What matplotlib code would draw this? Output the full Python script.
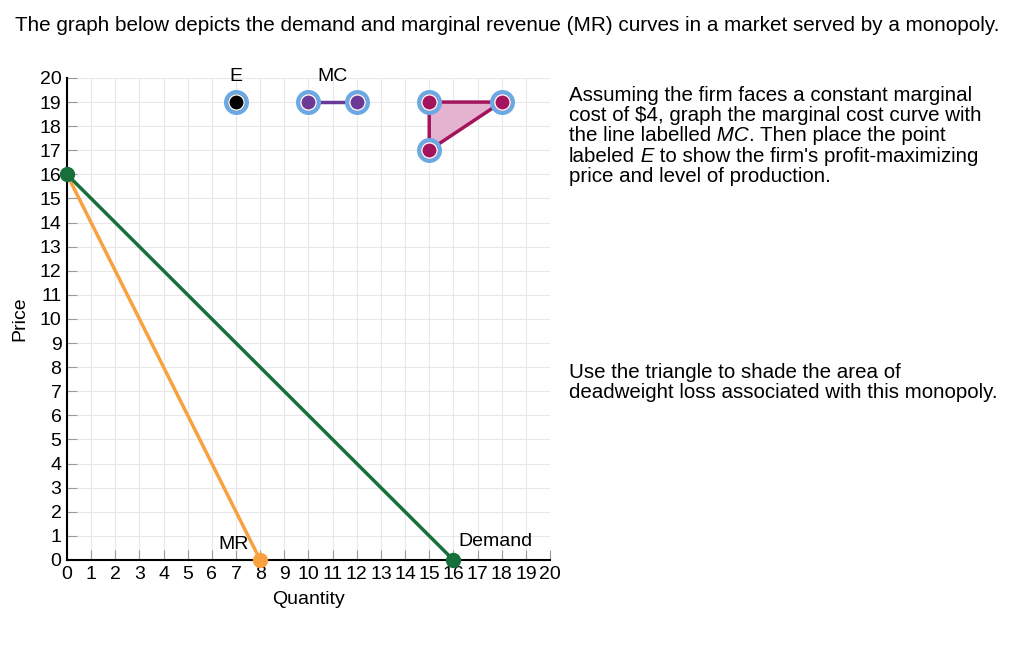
import matplotlib.pyplot as plt

plt.rcParams['font.family'] = ['Liberation Sans', 'DejaVu Sans']

# data
demand_q = [0, 16]
demand_p = [16, 0]
mr_q = [0, 8]
mr_p = [16, 0]
e_q, e_p = [7], [19]
mc_q = [10, 12]
mc_p = [19, 19]
tri_q = [15, 18, 15]
tri_p = [19, 19, 17]
ticks = list(range(0, 21))

green = '#17703c'
orange = '#f9a03f'
purple = '#6b3a96'
magenta = '#a3145c'
ring = '#6aa9e4'

fig = plt.figure(figsize=(10.24, 6.63), dpi=100)
ax = fig.add_axes([0.0654, 0.1554, 0.4717, 0.727])

ax.set_xlim(0, 20)
ax.set_ylim(0, 20)
ax.set_xticks(ticks)
ax.set_yticks(ticks)
ax.grid(True, color='#e8e8e8', linewidth=0.8)
ax.set_axisbelow(True)
for s in ['top', 'right']:
    ax.spines[s].set_visible(False)
ax.spines['left'].set_linewidth(1.5)
ax.spines['bottom'].set_linewidth(1.5)
ax.tick_params(direction='in', length=7, color='#999999', labelsize=14, pad=4)

ax.plot(mr_q, mr_p, color=orange, lw=2.5, clip_on=False)
ax.plot(demand_q, demand_p, color=green, lw=2.5, clip_on=False)
ax.plot(mr_q[1:], mr_p[1:], 'o', color=orange, ms=10, clip_on=False, zorder=5)
ax.plot(demand_q, demand_p, 'o', color=green, ms=10, clip_on=False, zorder=5)

# draggable items
ax.plot(e_q, e_p, 'o', ms=15, mfc='black', mec=ring, mew=3, clip_on=False, zorder=6)
ax.plot(e_q, e_p, 'o', ms=11, mfc='black', mec='white', mew=1, clip_on=False, zorder=6)
ax.plot(mc_q, mc_p, color=purple, lw=2.5, zorder=4)
ax.plot(mc_q, mc_p, 'o', ms=15, mfc=purple, mec=ring, mew=3, clip_on=False, zorder=6)
ax.plot(mc_q, mc_p, 'o', ms=11, mfc=purple, mec='white', mew=1, clip_on=False, zorder=6)
ax.fill(tri_q, tri_p, color='#e4b3d0', zorder=3)
ax.plot(tri_q + tri_q[:1], tri_p + tri_p[:1], color=magenta, lw=2.5, zorder=4)
ax.plot(tri_q, tri_p, 'o', ms=15, mfc=magenta, mec=ring, mew=3, clip_on=False, zorder=6)
ax.plot(tri_q, tri_p, 'o', ms=11, mfc=magenta, mec='white', mew=1, clip_on=False, zorder=6)

ax.text(7, 19.7, 'E', ha='center', va='bottom', fontsize=14)
ax.text(11, 19.7, 'MC', ha='center', va='bottom', fontsize=14)
ax.text(6.9, 0.3, 'MR', ha='center', va='bottom', fontsize=14)
ax.text(16.2, 0.4, 'Demand', ha='left', va='bottom', fontsize=14)

ax.set_xlabel('Quantity', fontsize=14, labelpad=6)
ax.set_ylabel('Price', fontsize=14, labelpad=8)

fig.text(0.0146, 0.962, 'The graph below depicts the demand and marginal revenue (MR) curves in a market served by a monopoly.',
         ha='left', va='center', fontsize=14.9)

# instruction text, (segment, italic) per line
lines1 = [[("Assuming the firm faces a constant marginal", False)],
          [("cost of $4, graph the marginal cost curve with", False)],
          [("the line labelled", False), (" MC", True), (". Then place the point", False)],
          [("labeled", False), (" E", True), (" to show the firm's profit-maximizing", False)],
          [("price and level of production.", False)]]
lines2 = [[("Use the triangle to shade the area of", False)],
          [("deadweight loss associated with this monopoly.", False)]]

renderer = fig.canvas.get_renderer()


def place(lines, y0):
    # put segments one after another so italics stay on the baseline
    for i, segs in enumerate(lines):
        x = 569
        y = 1 - (y0 + 20.2 * i) / 663
        for txt, it in segs:
            t = fig.text(x / 1024, y, txt, ha='left', va='baseline', fontsize=14.8,
                         style='italic' if it else 'normal')
            x += t.get_window_extent(renderer).width


place(lines1, 101)
place(lines2, 378)

fig.savefig('out.png', dpi=100)
